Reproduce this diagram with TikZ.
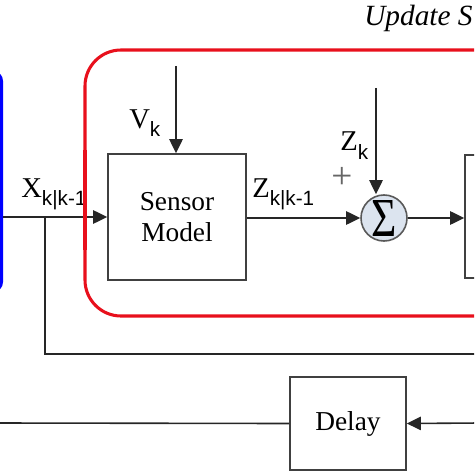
\documentclass[tikz,border=0pt]{standalone}
\usepackage{fontspec}
\setmainfont{Liberation Serif}
\newfontfamily\subfont{Liberation Sans}
\usetikzlibrary{arrows.meta}
\definecolor{sumfill}{HTML}{DCE4EF}
\definecolor{redbox}{HTML}{E8101C}
\newcommand{\mylab}[2]{{\fontsize{21.5}{24}\selectfont #1\raisebox{-0.28em}{\subfont\fontsize{15.5}{17}\selectfont #2}}}
\begin{document}
\begin{tikzpicture}[x=0.75pt,y=-0.75pt,
  blk/.style={draw=black!75, line width=1.2pt, fill=white, inner sep=0pt, align=center,
    font=\fontsize{20.5}{24}\selectfont},
  conn/.style={line width=1.2pt, draw=black!85},
  arr/.style={conn, -{Triangle[length=10.5pt,width=10pt]}},
  lab/.style={inner sep=0pt, anchor=base west}]
\useasboundingbox (0,0) rectangle (474,474);
\clip (0,0) rectangle (474,474);
% prediction block (blue, mostly off-page)
\node[draw=blue, line width=3pt, rounded corners=6pt, minimum width=46.5pt, minimum height=162.75pt, inner sep=0pt] (pred) at (-30,181.5) {};
% update step frame
\draw[redbox, line width=2.3pt, rounded corners=27pt] (85,50) rectangle (600,316);
\node[lab, font=\fontsize{22}{24}\selectfont\itshape] (title) at (364,26) {Update S};
% blocks
\node[blk, minimum width=103.5pt, minimum height=94.5pt] (sensor) at (177,217) {Sensor\\[-1pt]Model};
\node[circle, draw=black!65, line width=1.2pt, fill=sumfill, minimum size=34.5pt, inner sep=0pt] (sum) at (384,218)
  {\raisebox{-1.5pt}{\resizebox{19pt}{27pt}{Σ}}};
\node[blk, minimum width=60pt, minimum height=92pt] (upd) at (505,216.5) {};
\node[blk, minimum width=87pt, minimum height=70pt] (delay) at (348,423.5) {Delay};
% coordinates
\coordinate (vtop) at (176,66);
\coordinate (ztop) at (376,88);
\coordinate (split) at (45,218);
\coordinate (fbcorner) at (45,354);
\coordinate (fbend) at (480,354);
\coordinate (din) at (480,423);
\coordinate (dout) at (-5,423);
% connectors
\draw[arr] (pred.east |- sensor.west) -- (sensor.west);
\draw[arr] (vtop) -- (sensor.north -| vtop);
\draw[arr] (sensor.east |- sum.west) -- (sum.west);
\draw[arr] (ztop) -- (sum.north -| ztop);
\draw[arr] (sum.east) -- (upd.west |- sum.east);
\draw[conn] (split) -- (fbcorner) -- (fbend);
\draw[arr] (din) -- (delay.east);
\draw[conn] (delay.west) -- (dout);
% labels
\node[lab] (xl) at (21,197) {\mylab{X}{k|k-1}};
\node[lab] (vl) at (129,128) {\mylab{V}{k}};
\node[lab] (zl) at (252,197) {\mylab{Z}{k|k-1}};
\node[lab] (zkl) at (340,151) {\mylab{Z}{k}};
\node[inner sep=0pt, text=black!60, font=\fontsize{28}{30}\selectfont] (plus) at (342,178) {+};
% red frame redrawn over label overlap
\draw[redbox, line width=2.3pt] (85,150) -- (85,250);
\end{tikzpicture}
\end{document}
